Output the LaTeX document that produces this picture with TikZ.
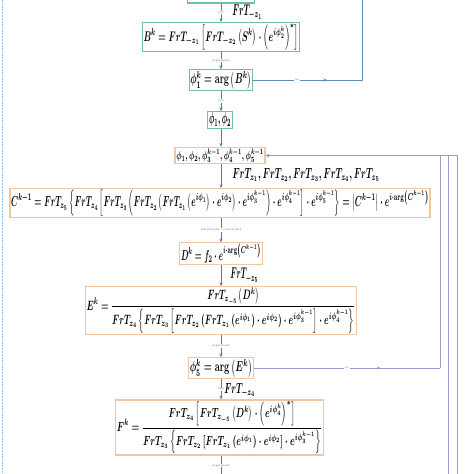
\documentclass[tikz,border=0pt]{standalone}
\usepackage{amsmath}
\usepackage{graphicx}
\usetikzlibrary{arrows.meta,decorations.markings}

\definecolor{verde}{RGB}{112,192,160}
\definecolor{naranja}{RGB}{238,200,160}
\definecolor{azul}{RGB}{60,130,195}
\definecolor{azulgris}{RGB}{100,140,180}
\definecolor{morado}{RGB}{130,100,180}
\definecolor{moradoclaro}{RGB}{165,150,200}
\definecolor{celeste}{RGB}{150,200,230}

% Fórmula ajustada a un ancho y alto fijos
\newcommand{\ajustada}[3]{\resizebox*{#1}{#2}{\boldmath$\displaystyle #3$}}

\tikzset{
  cajaverde/.style={draw=verde, line width=0.9pt, inner sep=1pt, fill=white},
  cajanaranja/.style={draw=naranja, line width=0.9pt, inner sep=1pt, fill=white},
  flechaazul/.style={azul, line width=0.5pt, -{Stealth[length=3pt,width=2.5pt]}},
  flechamorada/.style={morado, line width=0.5pt, -{Stealth[length=3pt,width=2.5pt]}},
  diminuto/.style={font=\fontsize{2.6}{3}\selectfont, fill=white, inner sep=0.4pt},
  etiqueta/.style={anchor=west, inner sep=0pt},
  flechamedia/.style={postaction={decorate}, decoration={markings,
      mark=at position #1 with {\arrow{Stealth[length=3pt,width=2.5pt]}}}}
}

\begin{document}
\begin{tikzpicture}[x=0.8pt, y=-0.8pt]

    \useasboundingbox (0,0) rectangle (474,474);

    % Línea punteada del borde
    \draw[celeste, line width=0.8pt, dash pattern=on 0.6pt off 0.6pt] (2,0) -- (2,474);

    % Cajas
    \node[cajaverde, minimum width=53.6pt, minimum height=20.8pt] (S) at (221,-10) {};
    \node[cajaverde] (B) at (221,37)
      {\ajustada{124pt}{21pt}{B^k = FrT_{-z_1}\left[FrT_{-z_2}\left(S^k\right)\cdot\left(e^{i\phi_2^k}\right)^{*}\right]}};
    \node[cajaverde] (phiuno) at (221,80)
      {\ajustada{49pt}{14.4pt}{\phi_1^k = \arg\left(B^k\right)}};
    \node[cajaverde] (phidos) at (220,120)
      {\ajustada{17.6pt}{11.2pt}{\phi_1,\phi_2}};
    \node[cajanaranja] (phis) at (220,155.5)
      {\ajustada{70pt}{11.2pt}{\phi_1,\phi_2,\phi_3^{k-1},\phi_4^{k-1},\phi_5^{k-1}}};
    \node[cajanaranja] (C) at (220,203)
      {\ajustada{334pt}{21pt}{C^{k-1} = FrT_{z_5}\left\{FrT_{z_4}\left[FrT_{z_3}\left(FrT_{z_2}\left(FrT_{z_1}\left(e^{i\phi_1}\right)\cdot e^{i\phi_2}\right)\cdot e^{i\phi_3^{k-1}}\right)\cdot e^{i\phi_4^{k-1}}\right]\cdot e^{i\phi_5^{k-1}}\right\} = \left|C^{k-1}\right|\cdot e^{i\cdot\arg\left(C^{k-1}\right)}}};
    \node[cajanaranja] (D) at (221,253.5)
      {\ajustada{64pt}{15pt}{D^k = f_2\cdot e^{i\cdot\arg\left(C^{k-1}\right)}}};
    \node[cajanaranja] (E) at (221,310.5)
      {\ajustada{215pt}{36pt}{E^k = \frac{FrT_{z_{-5}}\left(D^k\right)}{FrT_{z_4}\left\{FrT_{z_3}\left[FrT_{z_2}\left(FrT_{z_1}\left(e^{i\phi_1}\right)\cdot e^{i\phi_2}\right)\cdot e^{i\phi_3^{k-1}}\right]\cdot e^{i\phi_4^{k-1}}\right\}}}};
    \node[cajanaranja] (phicinco) at (221,368)
      {\ajustada{50pt}{14.4pt}{\phi_5^k = \arg\left(E^k\right)}};
    \node[cajanaranja] (F) at (219.5,427.5)
      {\ajustada{164pt}{42pt}{F^k = \frac{FrT_{z_4}\left[FrT_{z_{-5}}\left(D^k\right)\cdot\left(e^{i\phi_4^k}\right)^{*}\right]}{FrT_{z_3}\left\{FrT_{z_2}\left[FrT_{z_1}\left(e^{i\phi_1}\right)\cdot e^{i\phi_2}\right]\cdot e^{i\phi_3^{k-1}}\right\}}}};

    % Puntos auxiliares
    \coordinate (fin) at (221,480);
    \coordinate (azularriba) at (362,-5);
    \coordinate (moradoA) at (448,480);
    \coordinate (moradoB) at (457,480);

    % Flechas verticales
    \draw[flechaazul] (S.south -| B) -- node[diminuto] {yes} (B);
    \draw[flechaazul] (B) -- node[diminuto] {argument} (B |- phiuno.north);
    \draw[flechaazul] (B |- phiuno.south) -- node[diminuto] {yes} (B |- phidos.north);
    \draw[flechaazul] (B |- phidos.south) -- (B |- phis.north);
    \draw[flechamorada] (B |- phis.south) -- (B |- C.north);
    \draw[flechamorada] (B |- C.south) -- node[diminuto] {amplitude constraint} (D);
    \draw[flechamorada] (D) -- (E);
    \draw[flechamorada] (E) -- node[diminuto] {argument} (phicinco);
    \draw[flechamorada] (phicinco) -- node[diminuto] {yes} (phicinco |- F.north);
    \draw[flechamorada] (phicinco |- F.south) -- node[diminuto, pos=0.4] {argument} (fin);

    % Etiquetas de las flechas
    \node[etiqueta] (lb) at (232,12) {\ajustada{24pt}{12pt}{FrT_{-z_1}}};
    \node[etiqueta] (lc) at (232,175) {\ajustada{118pt}{11pt}{FrT_{z_1},FrT_{z_2},FrT_{z_3},FrT_{z_4},FrT_{z_5}}};
    \node[etiqueta] (le) at (230,275.5) {\ajustada{22.4pt}{12pt}{FrT_{-z_5}}};
    \node[etiqueta] (lf) at (224,390) {\ajustada{24.8pt}{11.2pt}{FrT_{-z_4}}};

    % Lazos de retorno
    \draw[azulgris, line width=0.6pt, flechamedia=0.38] (phiuno.east) -- node[diminuto, pos=0.4] {no} (362,80) -- (azularriba);
    \draw[moradoclaro, line width=0.6pt, flechamedia=0.68] (phicinco.east) -- node[diminuto, pos=0.5] {no} (440,368);
    \draw[moradoclaro, line width=0.6pt, -{Stealth[length=3pt,width=2.5pt]}] (440,368) |- (phis.east);
    \draw[moradoclaro, line width=0.6pt, -{Stealth[length=3pt,width=2.5pt]}] (moradoA) |- (phis.east);
    \draw[moradoclaro, line width=0.6pt, -{Stealth[length=3pt,width=2.5pt]}] (moradoB) |- (phis.east);

\end{tikzpicture}
\end{document}
